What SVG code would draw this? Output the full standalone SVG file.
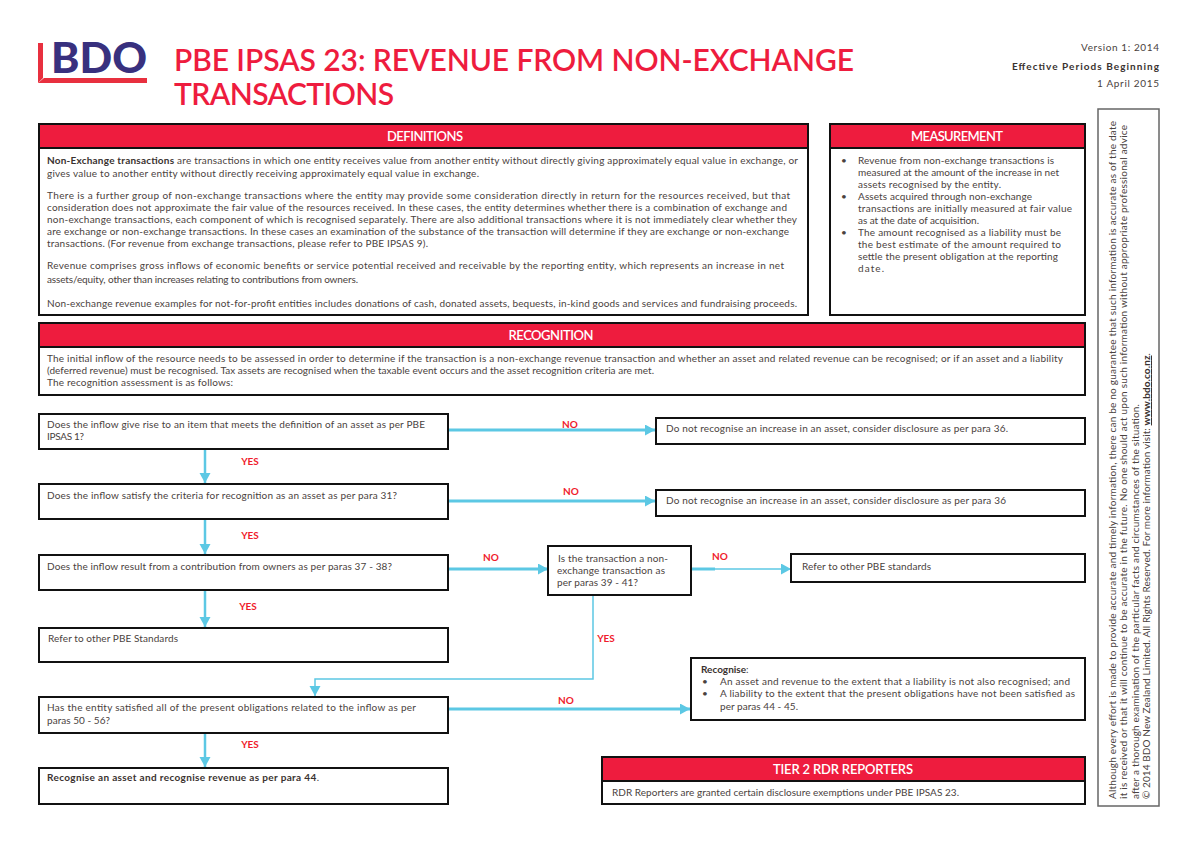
<svg xmlns="http://www.w3.org/2000/svg" width="1200" height="849" viewBox="0 0 1200 849">
<style>
text{font-family:"Lato","Liberation Sans",sans-serif}
.t{font-size:10px;fill:#4a4240}
.b{font-weight:700;fill:#3a3230}
.box{fill:#fff;stroke:#111;stroke-width:2}
.hd{fill:#ee1c3e;stroke:#111;stroke-width:2}
.ht{font-size:13px;font-weight:600;fill:#fff;text-anchor:middle}
.title{font-size:30px;font-weight:600;fill:#ee1c3e}
.lb{font-size:10px;font-weight:700;fill:#f01c2c;text-anchor:middle}
.c{fill:none;stroke:#5cc8e4}
</style>
<defs>
<marker id="ah" markerUnits="userSpaceOnUse" markerWidth="12" markerHeight="12" refX="10" refY="5.5" orient="auto"><path d="M0 0L10 5.5L0 11Z" fill="#5cc8e4"/></marker>
</defs>
<rect width="1200" height="849" fill="#fff"/>
<g id="logo">
<path d="M38 43h5v35l-5 5z" fill="#e8303f"/><path d="M38 83l6-5h103v5z" fill="#e8303f"/>
<text x="51" y="73" font-size="42" font-weight="900" fill="#38307e" textLength="96" lengthAdjust="spacingAndGlyphs">BDO</text>
</g>
<g id="title">
<text class="title" x="174" y="71" textLength="680">PBE IPSAS 23: REVENUE FROM NON-EXCHANGE</text>
<text class="title" x="174" y="105" textLength="220">TRANSACTIONS</text>
</g>
<g id="version">
<text class="t" x="1159" y="51" text-anchor="end" textLength="78">Version 1: 2014</text>
<text class="t b" x="1159" y="70" text-anchor="end" textLength="147">Effective Periods Beginning</text>
<text class="t" x="1159" y="87" text-anchor="end" textLength="62">1 April 2015</text>
</g>
<g id="definitions">
<rect class="box" x="39" y="124" width="769" height="191"/>
<rect class="hd" x="39" y="124" width="769" height="24"/>
<text class="ht" x="425" y="141" textLength="76">DEFINITIONS</text>
<text class="t" x="47" y="164" textLength="751"><tspan class="b">Non-Exchange transactions</tspan> are transactions in which one entity receives value from another entity without directly giving approximately equal value in exchange, or</text>
<text class="t" x="47" y="177" textLength="432">gives value to another entity without directly receiving approximately equal value in exchange.</text>
<text class="t" x="47" y="199" textLength="743">There is a further group of non-exchange transactions where the entity may provide some consideration directly in return for the resources received, but that</text>
<text class="t" x="47" y="211" textLength="740">consideration does not approximate the fair value of the resources received. In these cases, the entity determines whether there is a combination of exchange and</text>
<text class="t" x="47" y="223" textLength="750">non-exchange transactions, each component of which is recognised separately. There are also additional transactions where it is not immediately clear whether they</text>
<text class="t" x="47" y="235" textLength="742">are exchange or non-exchange transactions. In these cases an examination of the substance of the transaction will determine if they are exchange or non-exchange</text>
<text class="t" x="47" y="247" textLength="381">transactions. (For revenue from exchange transactions, please refer to PBE IPSAS 9).</text>
<text class="t" x="47" y="269" textLength="737">Revenue comprises gross inflows of economic benefits or service potential received and receivable by the reporting entity, which represents an increase in net</text>
<text class="t" x="47" y="283" textLength="311">assets/equity, other than increases relating to contributions from owners.</text>
<text class="t" x="47" y="307" textLength="750">Non-exchange revenue examples for not-for-profit entities includes donations of cash, donated assets, bequests, in-kind goods and services and fundraising proceeds.</text>
</g>
<g id="measurement">
<rect class="box" x="830" y="124" width="255" height="191"/>
<rect class="hd" x="830" y="124" width="255" height="24"/>
<text class="ht" x="957" y="141" textLength="92">MEASUREMENT</text>
<text class="t" x="841" y="164">•</text>
<text class="t" x="858" y="164" textLength="196">Revenue from non-exchange transactions is</text>
<text class="t" x="858" y="176" textLength="201">measured at the amount of the increase in net</text>
<text class="t" x="858" y="188" textLength="143">assets recognised by the entity.</text>
<text class="t" x="841" y="200">•</text>
<text class="t" x="858" y="200" textLength="174">Assets acquired through non-exchange</text>
<text class="t" x="858" y="212" textLength="214">transactions are initially measured at fair value</text>
<text class="t" x="858" y="224" textLength="121">as at the date of acquisition.</text>
<text class="t" x="841" y="236">•</text>
<text class="t" x="858" y="236" textLength="203">The amount recognised as a liability must be</text>
<text class="t" x="858" y="248" textLength="203">the best estimate of the amount required to</text>
<text class="t" x="858" y="260" textLength="200">settle the present obligation at the reporting</text>
<text class="t" x="858" y="272" textLength="26">date.</text>
</g>
<g id="recognition">
<rect class="box" x="39" y="323" width="1046" height="72"/>
<rect class="hd" x="39" y="323" width="1046" height="24"/>
<text class="ht" x="551" y="340" textLength="85">RECOGNITION</text>
<text class="t" x="47" y="362" textLength="1016">The initial inflow of the resource needs to be assessed in order to determine if the transaction is a non-exchange revenue transaction and whether an asset and related revenue can be recognised; or if an asset and a liability</text>
<text class="t" x="47" y="374" textLength="607">(deferred revenue) must be recognised. Tax assets are recognised when the taxable event occurs and the asset recognition criteria are met.</text>
<text class="t" x="47" y="386" textLength="186">The recognition assessment is as follows:</text>
</g>
<g id="connectors">
<path class="c" stroke-width="3" marker-end="url(#ah)" d="M448 430H655"/>
<path class="c" stroke-width="3" marker-end="url(#ah)" d="M448 501H655"/>
<path class="c" stroke-width="3" marker-end="url(#ah)" d="M448 569H548"/>
<path class="c" stroke-width="3" d="M691 569H715"/>
<path class="c" stroke-width="1.5" marker-end="url(#ah)" d="M715 569H791"/>
<path class="c" stroke-width="2.5" marker-end="url(#ah)" d="M205 449V483"/>
<path class="c" stroke-width="2.5" marker-end="url(#ah)" d="M205 519V554"/>
<path class="c" stroke-width="2.5" marker-end="url(#ah)" d="M205 590V627"/>
<path class="c" stroke-width="1.5" marker-end="url(#ah)" d="M593 595V679H315V696"/>
<path class="c" stroke-width="3" marker-end="url(#ah)" d="M448 709H690"/>
<path class="c" stroke-width="2.5" marker-end="url(#ah)" d="M205 733V767"/>
</g>
<g id="edge-labels">
<text class="lb" x="570" y="428">NO</text>
<text class="lb" x="571" y="495">NO</text>
<text class="lb" x="491" y="561">NO</text>
<text class="lb" x="720" y="560">NO</text>
<text class="lb" x="566" y="704">NO</text>
<text class="lb" x="250" y="465">YES</text>
<text class="lb" x="250" y="539">YES</text>
<text class="lb" x="248" y="610">YES</text>
<text class="lb" x="606" y="642">YES</text>
<text class="lb" x="250" y="748">YES</text>
</g>
<g id="q1"><rect class="box" x="39" y="414" width="409" height="35"/>
<text class="t" x="47" y="428" textLength="378">Does the inflow give rise to an item that meets the definition of an asset as per PBE</text>
<text class="t" x="47" y="440" textLength="37">IPSAS 1?</text></g>
<g id="a1"><rect class="box" x="656" y="418" width="429" height="26"/>
<text class="t" x="666" y="432" textLength="342">Do not recognise an increase in an asset, consider disclosure as per para 36.</text></g>
<g id="q2"><rect class="box" x="39" y="484" width="409" height="35"/>
<text class="t" x="47" y="499" textLength="350">Does the inflow satisfy the criteria for recognition as an asset as per para 31?</text></g>
<g id="a2"><rect class="box" x="656" y="490" width="429" height="26"/>
<text class="t" x="666" y="504" textLength="340">Do not recognise an increase in an asset, consider disclosure as per para 36</text></g>
<g id="q3"><rect class="box" x="39" y="555" width="409" height="35"/>
<text class="t" x="47" y="570" textLength="345">Does the inflow result from a contribution from owners as per paras 37 - 38?</text></g>
<g id="q4"><rect class="box" x="548" y="546" width="143" height="49"/>
<text class="t" x="558" y="562" textLength="110">Is the transaction a non-</text>
<text class="t" x="557" y="574" textLength="108">exchange transaction as</text>
<text class="t" x="557" y="586" textLength="81">per paras 39 - 41?</text></g>
<g id="a3"><rect class="box" x="791" y="554" width="294" height="28"/>
<text class="t" x="802" y="570" textLength="129">Refer to other PBE standards</text></g>
<g id="a4"><rect class="box" x="39" y="628" width="409" height="34"/>
<text class="t" x="48" y="642" textLength="130">Refer to other PBE Standards</text></g>
<g id="q5"><rect class="box" x="39" y="697" width="409" height="36"/>
<text class="t" x="47" y="711" textLength="369">Has the entity satisfied all of the present obligations related to the inflow as per</text>
<text class="t" x="47" y="724" textLength="63">paras 50 - 56?</text></g>
<g id="a5"><rect class="box" x="691" y="658" width="394" height="62"/>
<text class="t" x="701" y="673"><tspan class="b">Recognise</tspan>:</text>
<text class="t" x="702" y="685">•</text>
<text class="t" x="720" y="685" textLength="350">An asset and revenue to the extent that a liability is not also recognised; and</text>
<text class="t" x="702" y="697">•</text>
<text class="t" x="720" y="697" textLength="355">A liability to the extent that the present obligations have not been satisfied as</text>
<text class="t" x="720" y="710" textLength="78">per paras 44 - 45.</text></g>
<g id="q6"><rect class="box" x="39" y="768" width="409" height="36"/>
<text class="t" x="47" y="781" textLength="272"><tspan class="b">Recognise an asset and recognise revenue as per para 44</tspan>.</text></g>
<g id="tier2">
<rect class="box" x="602" y="757" width="483" height="47"/>
<rect class="hd" x="602" y="757" width="483" height="24"/>
<text class="ht" x="843" y="774" textLength="140">TIER 2 RDR REPORTERS</text>
<text class="t" x="612" y="796" textLength="347">RDR Reporters are granted certain disclosure exemptions under PBE IPSAS 23.</text>
</g>
<g id="disclaimer">
<rect x="1098" y="109" width="61" height="697" fill="#fff" stroke="#666" stroke-width="1.5"/>
<text class="t" transform="translate(1116,799) rotate(-90)" textLength="678">Although every effort is made to provide accurate and timely information, there can be no guarantee that such information is accurate as of the date</text>
<text class="t" transform="translate(1127,799) rotate(-90)" textLength="674">it is received or that it will continue to be accurate in the future. No one should act upon such information without appropriate professional advice</text>
<text class="t" transform="translate(1139,799) rotate(-90)" textLength="395">after a thorough examination of the particular facts and circumstances of the situation.</text>
<text class="t" transform="translate(1150,799) rotate(-90)" textLength="446">© 2014 BDO New Zealand Limited. All Rights Reserved. For more information visit: <tspan class="b" text-decoration="underline">www.bdo.co.nz</tspan>.</text>
</g>
</svg>
